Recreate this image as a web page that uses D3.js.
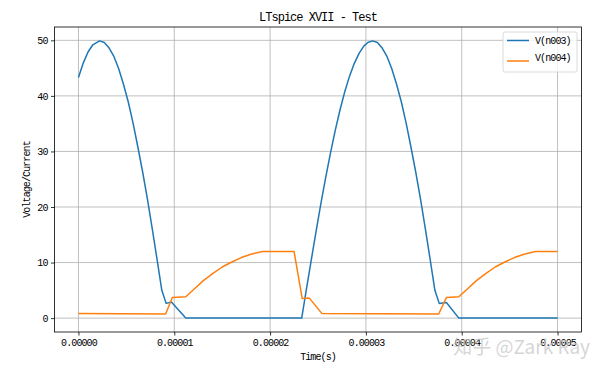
<!DOCTYPE html>
<html>
<head>
<meta charset="utf-8">
<script src="https://cdn.jsdelivr.net/npm/d3@7"></script>
<style>
  html, body { margin: 0; padding: 0; background: #fff; }
  text { font-family: "Liberation Mono", "DejaVu Sans Mono", monospace; }
</style>
</head>
<body>
<svg id="chart" width="600" height="375"></svg>
<script>
// ---- data (time in microseconds, values in volts) ----
const seriesNames = ["V(n003)", "V(n004)"];
const blueT = [0, 0.5, 1.0, 1.5, 2.2, 2.7, 3.2, 3.7, 4.2, 4.7, 5.2, 5.7, 6.2, 6.7, 7.2, 7.7, 8.2, 8.7, 9.15, 9.7, 11.2,
  23.3, 23.8, 24.3, 24.8, 25.3, 25.8, 26.3, 26.8, 27.3, 27.8, 28.3, 28.8, 29.3, 29.8, 30.2, 30.7,
  31.2, 31.7, 32.2, 32.7, 33.2, 33.7, 34.2, 34.7, 35.2, 35.7, 36.2, 36.7, 37.2, 37.65, 38.4, 39.7, 50];
const blueV = [43.3, 45.9, 47.9, 49.2, 49.9, 49.6, 48.6, 47.1, 44.9, 42.1, 38.9, 35.1, 30.8, 26.3, 21.4, 16.1, 10.6, 5.0, 2.65, 2.9, 0,
  0, 5.3, 10.5, 15.6, 20.6, 25.3, 29.7, 33.8, 37.5, 40.8, 43.6, 45.9, 47.7, 49.0, 49.6, 49.9,
  49.6, 48.6, 47.1, 44.9, 42.1, 38.9, 35.1, 30.8, 26.3, 21.4, 16.1, 10.6, 5.0, 2.65, 2.8, 0, 0];
const orangeT = [0, 9.1, 9.8, 11.2, 12, 13, 14, 15, 16, 17, 18, 19.2, 22.5, 23.35, 24.1, 25.4,
  37.6, 38.4, 39.7, 40.5, 41.5, 42.5, 43.5, 44.5, 45.5, 46.5, 47.7, 50];
const orangeV = [0.85, 0.75, 3.7, 3.85, 5.1, 6.7, 8.0, 9.2, 10.1, 10.9, 11.5, 12.0, 12.0, 3.55, 3.6, 0.85,
  0.75, 3.7, 3.85, 5.1, 6.7, 8.0, 9.2, 10.1, 10.9, 11.5, 12.0, 12.0];
const xTicks = [0, 0.00001, 0.00002, 0.00003, 0.00004, 0.00005];
const xTickLabels = ["0.00000", "0.00001", "0.00002", "0.00003", "0.00004", "0.00005"];
const yTicks = [0, 10, 20, 30, 40, 50];
const titleText = "LTspice XVII - Test";
const xLabel = "Time(s)";
const yLabel = "Voltage/Current";
const colors = ["#1f77b4", "#ff7f0e"];

// ---- layout ----
const L = 54.5, R = 581.5, T = 27, B = 332;
const svg = d3.select("#chart");

const x = d3.scaleLinear().domain([-0.0000025, 0.0000525]).range([L, R]);
const y = d3.scaleLinear().domain([-2.5, 52.4]).range([B, T]);

// grid
const grid = svg.append("g");
grid.selectAll(".gx").data(xTicks).enter().append("line")
  .attr("x1", d => x(d)).attr("x2", d => x(d)).attr("y1", T).attr("y2", B)
  .attr("stroke", "#b0b0b0").attr("stroke-width", 0.8);
grid.selectAll(".gy").data(yTicks).enter().append("line")
  .attr("x1", L).attr("x2", R).attr("y1", d => y(d)).attr("y2", d => y(d))
  .attr("stroke", "#b0b0b0").attr("stroke-width", 0.8);

// lines
const blue = blueT.map((t, i) => [t / 1e6, blueV[i]]);
const orange = orangeT.map((t, i) => [t / 1e6, orangeV[i]]);
const line = d3.line().x(d => x(d[0])).y(d => y(d[1]));
svg.append("path").datum(blue).attr("d", line).attr("fill", "none")
  .attr("stroke", colors[0]).attr("stroke-width", 1.5).attr("stroke-linejoin", "round");
svg.append("path").datum(orange).attr("d", line).attr("fill", "none")
  .attr("stroke", colors[1]).attr("stroke-width", 1.5).attr("stroke-linejoin", "round");

// axes
const xAxis = d3.axisBottom(x).tickValues(xTicks).tickFormat((d, i) => xTickLabels[i]).tickSize(3.5).tickPadding(3.5);
const yAxis = d3.axisLeft(y).tickValues(yTicks).tickFormat(d3.format("d")).tickSize(3.5).tickPadding(3.5);
const gx = svg.append("g").attr("transform", `translate(0,${B})`).call(xAxis);
const gy = svg.append("g").attr("transform", `translate(${L},0)`).call(yAxis);
[gx, gy].forEach(g => {
  g.select(".domain").remove();
  g.selectAll(".tick line").attr("stroke", "#000").attr("stroke-width", 0.8);
  g.selectAll(".tick text").attr("fill", "#000").style("font-size", "10px").style("letter-spacing", "-0.9px");
});

// frame
svg.append("rect").attr("x", L).attr("y", T).attr("width", R - L).attr("height", B - T)
  .attr("fill", "none").attr("stroke", "#000").attr("stroke-width", 0.8);

// titles
svg.append("text").attr("x", (L + R) / 2).attr("y", 21).attr("text-anchor", "middle")
  .style("font-size", "12px").style("letter-spacing", "-1px").text(titleText);
svg.append("text").attr("x", (L + R) / 2).attr("y", 360).attr("text-anchor", "middle")
  .style("font-size", "10px").style("letter-spacing", "-0.9px").text(xLabel);
svg.append("text").attr("transform", `translate(30,${(T + B) / 2}) rotate(-90)`).attr("text-anchor", "middle")
  .style("font-size", "10px").style("letter-spacing", "-0.9px").text(yLabel);

// legend
const lg = svg.append("g");
lg.append("rect").attr("x", 503).attr("y", 32).attr("width", 74).attr("height", 40).attr("rx", 2)
  .attr("fill", "#fff").attr("fill-opacity", 0.8).attr("stroke", "#d0d0d0").attr("stroke-width", 0.8);
const lineYs = [40.5, 61], textYs = [40.5, 57.5];
seriesNames.forEach((name, i) => {
  lg.append("line").attr("x1", 507).attr("x2", 529).attr("y1", lineYs[i]).attr("y2", lineYs[i])
    .attr("stroke", colors[i]).attr("stroke-width", 1.5);
  lg.append("text").attr("x", 535).attr("y", textYs[i]).attr("dy", "0.35em")
    .style("font-size", "10px").style("letter-spacing", "-0.9px").text(name);
});

// watermark
svg.append("text").attr("x", 590).attr("y", 354).attr("text-anchor", "end")
  .style("font-family", "'Noto Sans CJK SC', sans-serif").style("font-size", "19px")
  .attr("fill", "#c8c8c8").attr("fill-opacity", 0.75).text("知乎 @Zark Ray");
</script>
</body>
</html>
